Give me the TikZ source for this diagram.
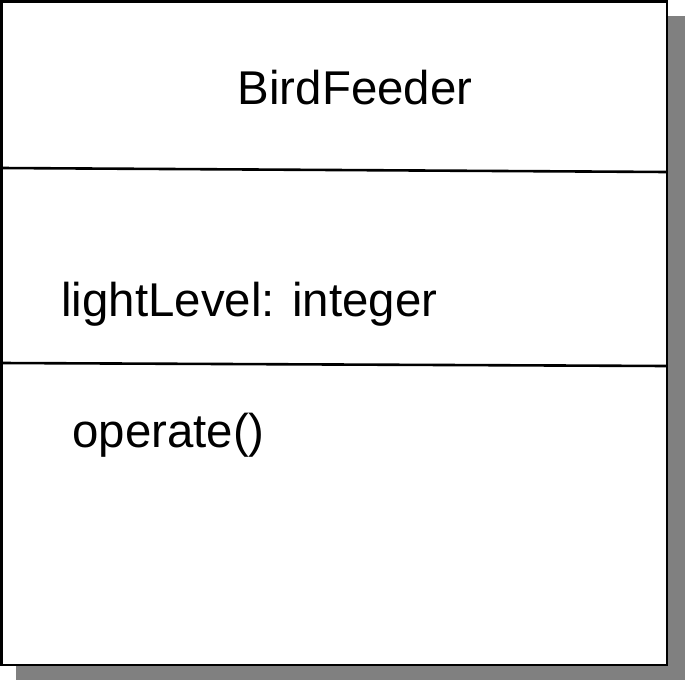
\documentclass[tikz,border=0pt]{standalone}
\usepackage{fontspec}
\setmainfont{Liberation Sans}
\usepackage{xcolor}
\definecolor{shadowgray}{RGB}{128,128,128}

\begin{document}
\begin{tikzpicture}[x=0.5pt,y=-0.5pt,
    label/.style={font=\fontsize{23.7}{28}\selectfont, inner sep=0pt}]
            % Fix the page size
            \useasboundingbox (0,0) rectangle (685,680);

            % Draw the shadow and the main rectangle
            \fill[shadowgray] (16,16) rectangle (685,680);
            \draw[line width=1.4pt, fill=white] (1.5,1.5) rectangle (667,665);

            % Draw the dividers
            \coordinate (d1l) at (1,168);
            \coordinate (d1r) at (667,172);
            \coordinate (d2l) at (1,363);
            \coordinate (d2r) at (667,366);
            \draw[line width=1.3pt] (d1l) -- (d1r);
            \draw[line width=1.3pt] (d2l) -- (d2r);

            % Draw class labels
            \node[label, anchor=base] (name) at (355,104) {BirdFeeder};
            \node[label, anchor=base west] (attr) at (61,316) {lightLevel: integer};
            \node[label, anchor=base west] (oper) at (72,447) {operate()};
        \end{tikzpicture}
\end{document}
